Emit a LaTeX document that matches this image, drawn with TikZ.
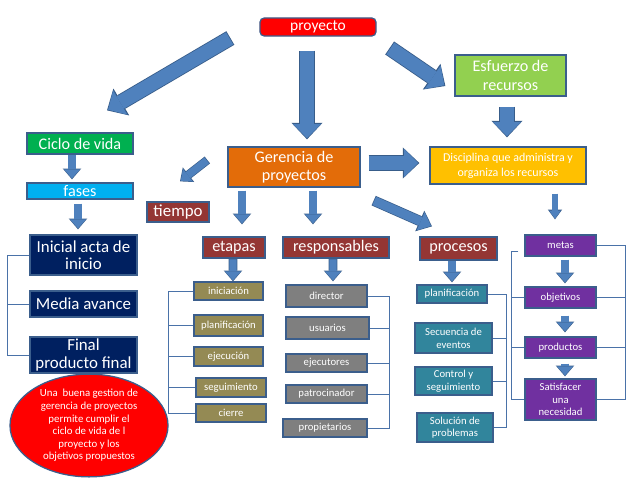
\documentclass[tikz,border=0pt]{standalone}
\usepackage{fontspec}
\setmainfont{Carlito}
\usepackage{tikz}
\usetikzlibrary{arrows.meta,shapes.geometric,calc}
\definecolor{PRed}{HTML}{FF0000}
\definecolor{PEdge}{HTML}{3B5E8C}
\definecolor{PArrow}{HTML}{4F81BD}
\definecolor{PArrowEdge}{HTML}{385D8A}
\definecolor{PLine}{HTML}{4A72A8}
\definecolor{PGreen}{HTML}{00B050}
\definecolor{PLime}{HTML}{92D050}
\definecolor{PCyan}{HTML}{00B0F0}
\definecolor{PNavy}{HTML}{002060}
\definecolor{POrange}{HTML}{E36C09}
\definecolor{PGold}{HTML}{FFC000}
\definecolor{PWine}{HTML}{943634}
\definecolor{POlive}{HTML}{948A54}
\definecolor{PGray}{HTML}{7F7F7F}
\definecolor{PTeal}{HTML}{31859C}
\definecolor{PPurple}{HTML}{7030A0}
\tikzset{
  caja/.style={draw=PEdge,line width=0.9pt,text=white,align=center,inner sep=1pt},
  grande/.style={font=\fontsize{11.5}{13}\selectfont},
  chica/.style={font=\fontsize{7.6}{9}\selectfont},
  llave/.style={draw=PLine,line width=0.6pt},
  flechaG/.style={draw=PArrow,line width=10pt,-{Triangle[length=10pt,width=20pt,line width=0pt]},shorten <=0.6pt,shorten >=0.9pt,
    preaction={draw=PArrowEdge,line width=11.2pt,-{Triangle[length=11.8pt,width=22.2pt,line width=0pt]},shorten <=0pt,shorten >=0pt}},
  flechaM/.style={draw=PArrow,line width=6.4pt,-{Triangle[length=8pt,width=14pt,line width=0pt]},shorten <=0.5pt,shorten >=0.8pt,
    preaction={draw=PArrowEdge,line width=7.4pt,-{Triangle[length=9.5pt,width=16pt,line width=0pt]},shorten <=0pt,shorten >=0pt}},
  flechaC/.style={draw=PArrow,line width=5.3pt,-{Triangle[length=6.4pt,width=11.4pt,line width=0pt]},shorten <=0.5pt,shorten >=0.7pt,
    preaction={draw=PArrowEdge,line width=6.2pt,-{Triangle[length=7.7pt,width=13.2pt,line width=0pt]},shorten <=0pt,shorten >=0pt}},
  flechaT/.style={draw=PArrow,line width=3.6pt,-{Triangle[length=5.7pt,width=8.5pt,line width=0pt]},shorten <=0.4pt,shorten >=0.6pt,
    preaction={draw=PArrowEdge,line width=4.4pt,-{Triangle[length=6.9pt,width=10.1pt,line width=0pt]},shorten <=0pt,shorten >=0pt}},
}
\begin{document}
\begin{tikzpicture}[x=0.025cm,y=-0.025cm]
\useasboundingbox (0,0) rectangle (638,479);
\node[caja,fill=PRed,rounded corners=3pt,minimum width=2.9cm,minimum height=0.45cm,font=\fontsize{11}{13}\selectfont] (pr) at (318,27) {proyecto};
\node[caja,grande,fill=PLime,minimum width=2.775cm,minimum height=1.025cm] (es) at (510.5,75.5) {Esfuerzo de\\recursos};
\node[caja,fill=PGold,minimum width=3.9cm,minimum height=0.925cm,font=\fontsize{8.5}{10.5}\selectfont] (di) at (508,165.5) {Disciplina que administra y\\organiza los recursos};
\node[caja,grande,fill=POrange,minimum width=3.3cm,minimum height=1cm] (gp) at (294,167) {Gerencia de\\proyectos};
\node[caja,grande,fill=PGreen,minimum width=2.65cm,minimum height=0.525cm] (cv) at (80,143.5) {Ciclo de vida};
\node[caja,grande,fill=PCyan,minimum width=2.65cm,minimum height=0.4cm] (fa) at (80,191) {fases};
\node[caja,fill=PWine,minimum width=1.55cm,minimum height=0.5cm,font=\fontsize{12}{13}\selectfont] (ti) at (178,212) {tiempo};
\node[caja,fill=PNavy,minimum width=2.675cm,minimum height=1cm,font=\fontsize{12}{12.5}\selectfont] (in) at (83.5,255) {Inicial acta de\\inicio};
\node[caja,fill=PNavy,minimum width=2.675cm,minimum height=0.65cm,font=\fontsize{12}{12.5}\selectfont] (me) at (83.5,304) {Media avance};
\node[caja,fill=PNavy,minimum width=2.675cm,minimum height=0.9cm,font=\fontsize{12}{13.5}\selectfont] (fi) at (83.5,355) {Final\\producto final};
\node[ellipse,draw=PEdge,line width=0.9pt,fill=PRed,text=white,align=center,inner sep=0pt,minimum width=3.95cm,minimum height=2.375cm,font=\fontsize{7.7}{9}\selectfont] (el) at (89,425.5) {Una~ buena gestion de\\gerencia de proyectos\\permite cumplir el\\ciclo de vida de l\\proyecto y los\\objetivos propuestos};
\node[caja,grande,fill=PWine,minimum width=1.55cm,minimum height=0.525cm] (et) at (234,247.5) {etapas};
\node[caja,grande,fill=PWine,minimum width=2.65cm,minimum height=0.525cm] (rs) at (336,247.5) {responsables};
\node[caja,grande,fill=PWine,minimum width=1.925cm,minimum height=0.575cm] (pc) at (458.5,248.5) {procesos};
\foreach \n/\x/\y/\w/\h/\lab in {e1/228.5/291/1.725/0.45/iniciación,e2/228.5/325.5/1.725/0.525/planificación,e3/228.5/356.5/1.725/0.475/ejecución,e4/231/387.5/1.75/0.475/seguimiento,e5/231/413/1.75/0.45/cierre} {
  \node[caja,chica,fill=POlive,minimum width=\w cm,minimum height=\h cm] (\n) at (\x,\y) {\lab};
}
\foreach \n/\x/\y/\w/\h/\lab in {r1/326.5/296/2.025/0.55/director,r2/327.5/328/2.075/0.55/usuarios,r3/326.5/363/2.025/0.45/ejecutores,r4/326.5/394/2.025/0.45/patrocinador,r5/325/428/2.1/0.45/propietarios} {
  \node[caja,chica,fill=PGray,minimum width=\w cm,minimum height=\h cm] (\n) at (\x,\y) {\lab};
}
\foreach \n/\x/\y/\w/\h/\lab in {p1/452/294/1.75/0.45/planificación,p2/453.5/338/1.925/0.75/Secuencia de\\eventos,p3/453.5/381/1.925/0.7/Control y\\seguimiento,p4/455/427.5/1.9/0.725/Solución de\\problemas} {
  \node[caja,chica,fill=PTeal,minimum width=\w cm,minimum height=\h cm] (\n) at (\x,\y) {\lab};
}
\foreach \n/\y/\h/\lab in {m1/245.5/0.525/metas,m2/297.5/0.525/objetivos,m3/347.5/0.525/productos,m4/399.5/1.025/Satisfacer\\una\\necesidad} {
  \node[caja,chica,fill=PPurple,minimum width=1.775cm,minimum height=\h cm] (\n) at (560.5,\y) {\lab};
}
\draw[flechaG] ($(pr.west)+(-29,11)$) -- ($(cv.north)+(27,-22)$);
\draw[flechaG] ($(pr.south)+(-11,14)$) -- ($(gp.north)+(13,-7)$);
\draw[flechaG] ($(pr.east)+(13,21)$) -- ($(es.west)+(-9,10.5)$);
\draw[flechaG] ($(es.south)+(-3.5,10)$) -- ($(di.north)+(-1,-9)$);
\draw[flechaG] ($(gp.east)+(8,-4)$) -- ($(di.west)+(-10,-2.5)$);
\draw[flechaC] ($(gp.west)+(-20,-7)$) -- ($(ti.north)+(2,-20)$);
\draw[flechaC] ($(gp.south)+(-52,3)$) -- ($(et.north)+(8,-12)$);
\draw[flechaC] ($(gp.south)+(19,3)$) -- ($(rs.north)+(-23,-12)$);
\draw[flechaM] ($(gp.south east)+(13,13)$) -- ($(pc.north)+(-26.5,-10)$);
\draw[flechaT] ($(di.south)+(47,9)$) -- ($(m1.north)+(-5.5,-15)$);
\draw[flechaC] ($(cv.south)+(-8,0)$) -- ($(fa.north)+(-8,-3)$);
\draw[flechaC] ($(fa.south)+(-2,4)$) -- ($(in.north)+(-5.5,-5)$);
\draw[flechaC] ($(et.south)+(-1,0)$) -- ($(e1.north)+(4.5,0)$);
\draw[flechaC] ($(rs.south)+(-3,0)$) -- ($(r1.north)+(6.5,-3)$);
\draw[flechaC] ($(pc.south)+(-6.5,0)$) -- ($(p1.north)+(0,-2)$);
\draw[flechaC] ($(m1.south)+(4.5,3)$) -- ($(m2.north)+(4.5,-3)$);
\draw[flechaC] ($(m2.south)+(4.5,7)$) -- ($(m3.north)+(4.5,-4)$);
\draw[flechaC] ($(m3.south)+(4.5,5)$) -- ($(m4.north)+(4.5,-2)$);
\coordinate (bl) at (7,0);
\coordinate (be) at (168,0);
\coordinate (br) at (389,0);
\coordinate (bp) at (506,0);
\coordinate (bm) at (511,0);
\coordinate (bn) at (625,0);
\draw[llave] (in.west) -- (in.west -| bl) -- (fi.west -| bl) -- (fi.west);
\draw[llave] (me.west) -- (me.west -| bl);
\draw[llave] (e1.west) -- (e1.west -| be) -- (e5.west -| be) -- (e5.west);
\foreach \n in {e2,e3,e4} \draw[llave] (\n.west) -- (\n.west -| be);
\draw[llave] (r1.east) -- (r1.east -| br) -- (r5.east -| br) -- (r5.east);
\foreach \n in {r2,r3,r4} \draw[llave] (\n.east) -- (\n.east -| br);
\draw[llave] (p1.east) -- (p1.east -| bp) -- (p4.east -| bp) -- (p4.east);
\foreach \n in {p2,p3} \draw[llave] (\n.east) -- (\n.east -| bp);
\draw[llave] ($(m1.west)+(-6,6)$) -- ($(m1.west -| bm)+(0,6)$) -- (m4.west -| bm) -- (m4.west);
\foreach \n in {m2,m3} \draw[llave] (\n.west) -- (\n.west -| bm);
\draw[llave] (m1.east) -- (m1.east -| bn) -- (m4.east -| bn) -- (m4.east);
\foreach \n in {m2,m3} \draw[llave] (\n.east) -- (\n.east -| bn);
\end{tikzpicture}
\end{document}
